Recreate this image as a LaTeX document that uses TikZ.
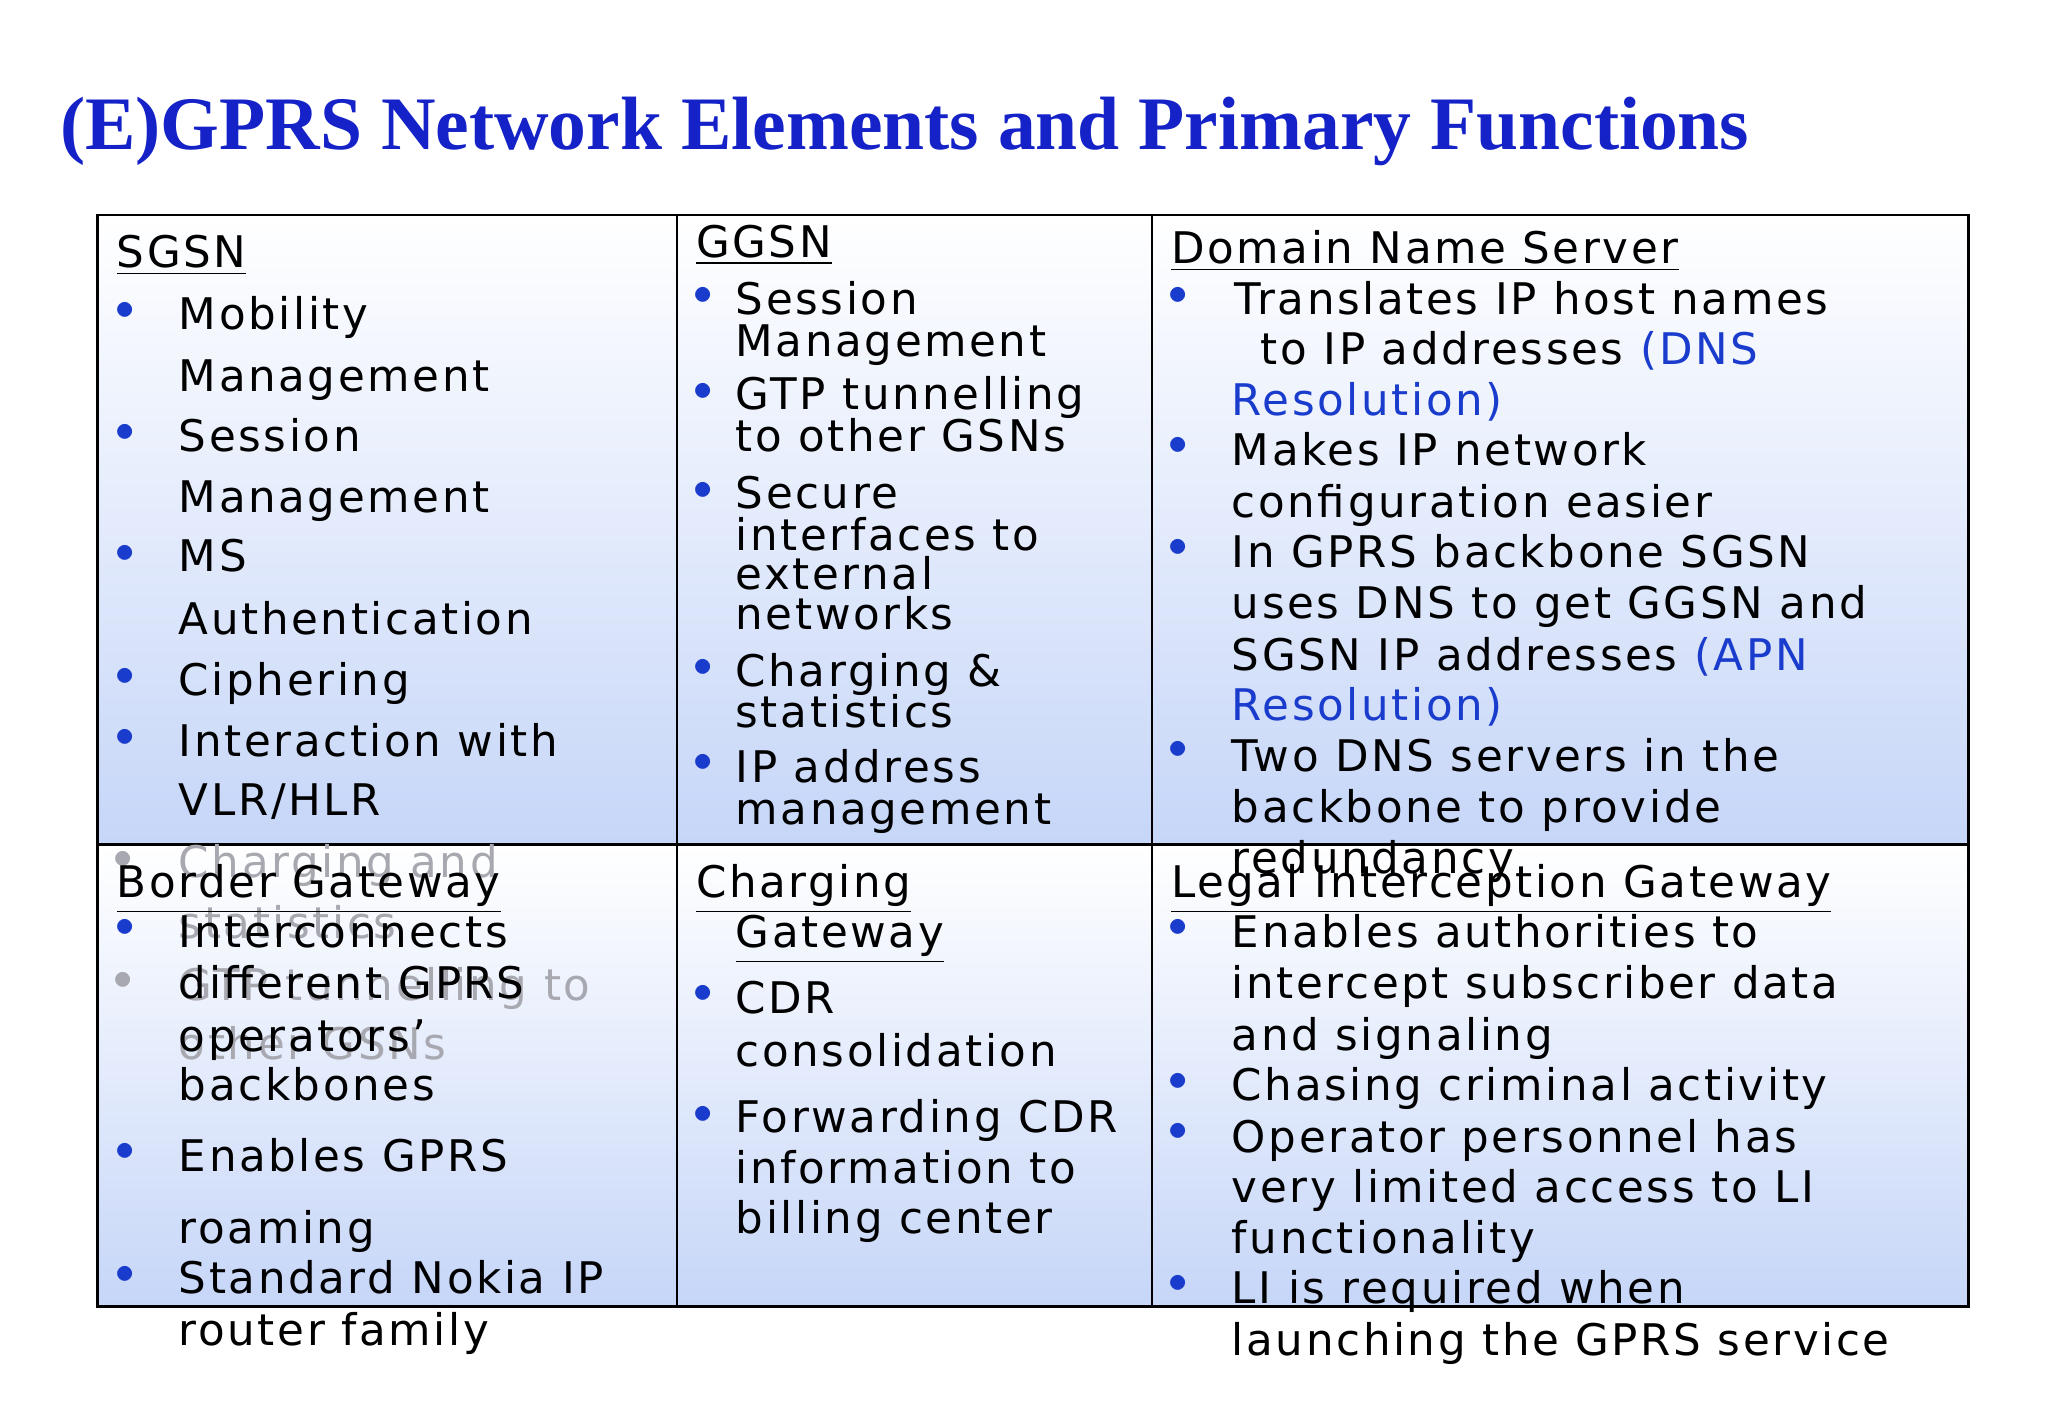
\documentclass[tikz,border=0pt]{standalone}
\usepackage{fontspec}
\setmainfont{DejaVu Sans}[LetterSpace=6]
\newfontfamily\titlefont{Liberation Serif}
\definecolor{tblue}{HTML}{1422C8}
\definecolor{lblue}{HTML}{1A3CCC}
\definecolor{cellbot}{HTML}{C6D6F8}
\definecolor{ghost}{HTML}{A8A8B0}
\newcounter{tl}
\tikzset{
  txt/.style={anchor=base west,inner sep=0pt,font=\fontsize{12.4}{15}\selectfont},
  bul/.style={anchor=center,inner sep=0pt,font=\fontsize{11}{13}\selectfont,text=lblue},
  cell/.style={draw=black,line width=0.8pt,top color=white,bottom color=cellbot}
}
\newcommand{\tl}[4][black]{\stepcounter{tl}\node[txt,text=#1] (t\thetl) at (#2,#3) {#4};}
\newcommand{\bl}[3][lblue]{\stepcounter{tl}\node[bul,text=#1] (b\thetl) at (#2,#3) {$\bullet$};}
\begin{document}
\begin{tikzpicture}[x=0.0132cm,y=-0.0132cm]
\useasboundingbox (0,0) rectangle (1552,1075);
\fill[white] (0,0) rectangle (1552,1075);
\node[anchor=base west,inner sep=0pt,text=tblue,font=\titlefont\bfseries\fontsize{21.5}{25}\selectfont] (title) at (45,113) {(E)GPRS Network Elements and Primary Functions};
% cells
\path[cell] (74,163) rectangle (513,640);
\path[cell] (513,163) rectangle (873,640);
\path[cell] (873,163) rectangle (1492,640);
\path[cell] (74,640) rectangle (513,990);
\path[cell] (513,640) rectangle (873,990);
\path[cell] (873,640) rectangle (1492,990);
% SGSN
\tl{88}{203}{\underline{SGSN}}
\foreach \y in {236,328,420,513,559}{\bl{95}{\y}}
\tl{135}{250}{Mobility}
\tl{135}{297}{Management}
\tl{135}{342}{Session}
\tl{135}{388}{Management}
\tl{135}{433}{MS}
\tl{135}{481}{Authentication}
\tl{135}{527}{Ciphering}
\tl{135}{573}{Interaction with}
\tl{135}{618}{VLR/HLR}
% ghost overflow
\bl[ghost]{93}{652}
\bl[ghost]{93}{743}
\tl[ghost]{135}{665}{Charging and}
\tl[ghost]{135}{711}{statistics}
\tl[ghost]{135}{758}{GTP tunnelling to}
\tl[ghost]{135}{803}{other GSNs}
% GGSN
\tl{527}{195}{\underline{GGSN}}
\foreach \y in {224,297,372,506,578}{\bl{533}{\y}}
\tl{557}{238}{Session}
\tl{557}{270}{Management}
\tl{557}{310}{GTP tunnelling}
\tl{557}{342}{to other GSNs}
\tl{557}{385}{Secure}
\tl{557}{417}{interfaces to}
\tl{557}{447}{external}
\tl{557}{477}{networks}
\tl{557}{520}{Charging \&}
\tl{557}{551}{statistics}
\tl{557}{593}{IP address}
\tl{557}{625}{management}
% DNS
\tl{887}{200}{\underline{Domain Name Server}}
\foreach \y in {224,338,415,568}{\bl{893}{\y}}
\tl{935}{238}{Translates IP host names}
\tl{955}{276}{to IP addresses \textcolor{lblue}{(DNS}}
\tl[lblue]{933}{315}{Resolution)}
\tl{933}{353}{Makes IP network}
\tl{933}{392}{configuration easier}
\tl{933}{430}{In GPRS backbone SGSN}
\tl{933}{469}{uses DNS to get GGSN and}
\tl{933}{508}{SGSN IP addresses \textcolor{lblue}{(APN}}
\tl[lblue]{933}{546}{Resolution)}
\tl{933}{585}{Two DNS servers in the}
\tl{933}{623}{backbone to provide}
\tl{933}{662}{redundancy}
% Border Gateway
\tl{88}{680}{\underline{Border Gateway}}
\foreach \y in {703,873,966}{\bl{95}{\y}}
\tl{135}{718}{Interconnects}
\tl{135}{757}{different GPRS}
\tl{135}{797}{operators'}
\tl{135}{834}{backbones}
\tl{135}{888}{Enables GPRS}
\tl{135}{942}{roaming}
\tl{135}{980}{Standard Nokia IP}
\tl{135}{1020}{router family}
% Charging Gateway
\tl{527}{680}{\underline{Charging}}
\tl{557}{718}{\underline{Gateway}}
\foreach \y in {753,845}{\bl{533}{\y}}
\tl{557}{768}{CDR}
\tl{557}{808}{consolidation}
\tl{557}{858}{Forwarding CDR}
\tl{557}{897}{information to}
\tl{557}{935}{billing center}
% LIG
\tl{887}{680}{\underline{Legal Interception Gateway}}
\foreach \y in {703,820,858,973}{\bl{893}{\y}}
\tl{933}{718}{Enables authorities to}
\tl{933}{757}{intercept subscriber data}
\tl{933}{796}{and signaling}
\tl{933}{834}{Chasing criminal activity}
\tl{933}{873}{Operator personnel has}
\tl{933}{911}{very limited access to LI}
\tl{933}{950}{functionality}
\tl{933}{988}{LI is required when}
\tl{933}{1027}{launching the GPRS service}
\end{tikzpicture}
\end{document}
